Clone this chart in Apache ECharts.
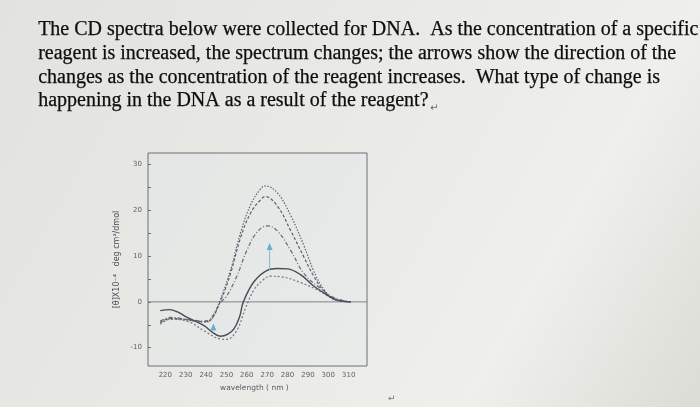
<!DOCTYPE html>
<html><head><meta charset="utf-8">
<script src="https://cdn.jsdelivr.net/npm/echarts@6/dist/echarts.min.js"></script>
<style>html,body{margin:0;padding:0;background:#e6e6e2;}#c{width:700px;height:407px;}</style>
</head><body><div id="c"></div>
<script>
var questionLines = [
  "The CD spectra below were collected for DNA.  As the concentration of a specific",
  "reagent is increased, the spectrum changes; the arrows show the direction of the",
  "changes as the concentration of the reagent increases.  What type of change is",
  "happening in the DNA as a result of the reagent?"
];
var xTicks = [220, 230, 240, 250, 260, 270, 280, 290, 300, 310];
var yTicks = [-10, 0, 10, 20, 30];
var yMinorTicks = [-10, -5, 0, 5, 10, 15, 20, 25, 30];
var curveSolid = [[217.5,-1.9],[222,-1.7],[226,-2.2],[230.7,-3.4],[239,-5.2],[243,-6.6],[247,-7.5],[250.5,-7.1],[253.7,-5.9],[256.5,-3.2],[258.3,0],[263.5,4.4],[270,6.9],[275,7.3],[280,7.2],[286.5,5.9],[293,3.4],[298,1.9],[303,0.6],[307,0.15],[311,0]];
var curveShortDash = [[217.5,-4.9],[222.5,-3.8],[230.7,-4.2],[239,-6.3],[247,-8.1],[250,-8.2],[255,-6.3],[259.5,-1.2],[263.5,2.6],[268,4.8],[271.7,5.6],[276.6,5.5],[286.5,4.2],[296,2.3],[303,0.5],[311,0]];
var curveDashDot = [[217.5,-4.2],[222.5,-3.4],[230.7,-3.8],[239,-4.2],[242,-3.8],[247,-0.2],[250,1.2],[255,5.5],[260,11.2],[265,15.2],[270,16.6],[275,15.5],[281.6,11.2],[288,6.2],[296,3.0],[303,0.9],[311,0]];
var curveDashed = [[217.5,-4.5],[222.5,-3.6],[230.7,-3.9],[239,-4.3],[242,-4.0],[247,0.1],[252,6.2],[257,14.1],[262,19.5],[266.8,22.3],[269,23.0],[275,20.9],[281.6,15.5],[288,9.8],[293,5.5],[298,2.3],[303,0.7],[311,0]];
var curveDotted = [[217.5,-4.6],[222.5,-3.7],[230.7,-4.0],[239,-4.4],[242,-4.1],[247,0.5],[252,6.9],[257,15.2],[262,21.3],[266.8,24.7],[269,25.3],[275,23.8],[281.6,18.8],[288,12.3],[293,6.6],[298,2.6],[303,0.5],[311,0]];
var arrowShaft = [[271.2,6.9],[271.2,11.4]];
var arrowHeads = [[271.2,12.1],[243.6,-5.5]];

var chart = echarts.init(document.getElementById('c'));
var graphics = questionLines.map(function(t, i){
  return {type:'text', left:38, top:20 + i*23.6, style:{text:t, font:'20px "Liberation Serif"', fill:'#0e0e0e', stroke:'#0e0e0e', lineWidth:0.25}};
});
graphics.push({type:'text', left:430, top:103, style:{text:'\u21b5', font:'10px "DejaVu Sans"', fill:'#666'}});
graphics.push({type:'text', left:220, top:384, style:{text:'wavelength ( nm )', font:'7.5px "DejaVu Sans"', fill:'#5a5a66'}});
graphics.push({type:'text', left:388, top:394, style:{text:'\u21b5', font:'9px "DejaVu Sans"', fill:'#777'}});
function lineSeries(data, type, w, col){
  return {type:'line', data:data, smooth:0.4, symbol:'none', lineStyle:{color:col, width:w, type:type}, z:3, silent:true};
}
chart.setOption({
  animation:false,
  backgroundColor:new echarts.graphic.LinearGradient(0, 0, 1, 1, [
    {offset:0, color:'#e2e2de'}, {offset:0.55, color:'#ebebe8'}, {offset:0.75, color:'#efefec'}, {offset:1, color:'#dcdcd6'}]),
  graphic: graphics,
  grid:{left:148, top:153, right:333, bottom:41, show:true, borderColor:'#6e6e78', borderWidth:1, backgroundColor:'rgba(220,232,232,0.25)'},
  xAxis:{type:'value', min:211.5, max:319, position:'bottom',
    axisLine:{show:false}, splitLine:{show:false},
    axisTick:{show:false},
    axisLabel:{customValues:xTicks, color:'#5e5e6a', fontSize:7, margin:6, fontFamily:'DejaVu Sans'}},
  yAxis:{type:'value', min:-14, max:32.5,
    name:'[θ]X10⁻⁴   deg cm²/dmol', nameLocation:'middle', nameRotate:90, nameGap:27,
    nameTextStyle:{color:'#4a4a56', fontSize:8, fontFamily:'DejaVu Sans'},
    axisLine:{show:false}, splitLine:{show:false},
    axisTick:{show:true, inside:true, length:3, customValues:yMinorTicks, lineStyle:{color:'#6e6e78'}},
    axisLabel:{customValues:yTicks, color:'#5e5e6a', fontSize:7, margin:6, fontFamily:'DejaVu Sans'}},
  series:[
    {type:'line', data:[[211.5,0],[319,0]], symbol:'none', lineStyle:{color:'#80808a', width:1}, z:2, silent:true},
    lineSeries(curveDotted, [1.5,1.5], 1.2, '#646474'),
    lineSeries(curveDashed, [3,2], 1.2, '#5c5c6c'),
    lineSeries(curveDashDot, [4,2,1,2], 1.2, '#686878'),
    lineSeries(curveShortDash, [2,2], 1.2, '#747484'),
    lineSeries(curveSolid, 'solid', 1.4, '#4a4a58'),
    {type:'line', data:arrowShaft, symbol:'none', lineStyle:{color:'#7fb6da', width:1}, z:4, silent:true},
    {type:'scatter', data:arrowHeads, symbol:'triangle', symbolSize:[6,7], itemStyle:{color:'#4a9fd6'}, z:5, silent:true}
  ]
});
</script></body></html>
